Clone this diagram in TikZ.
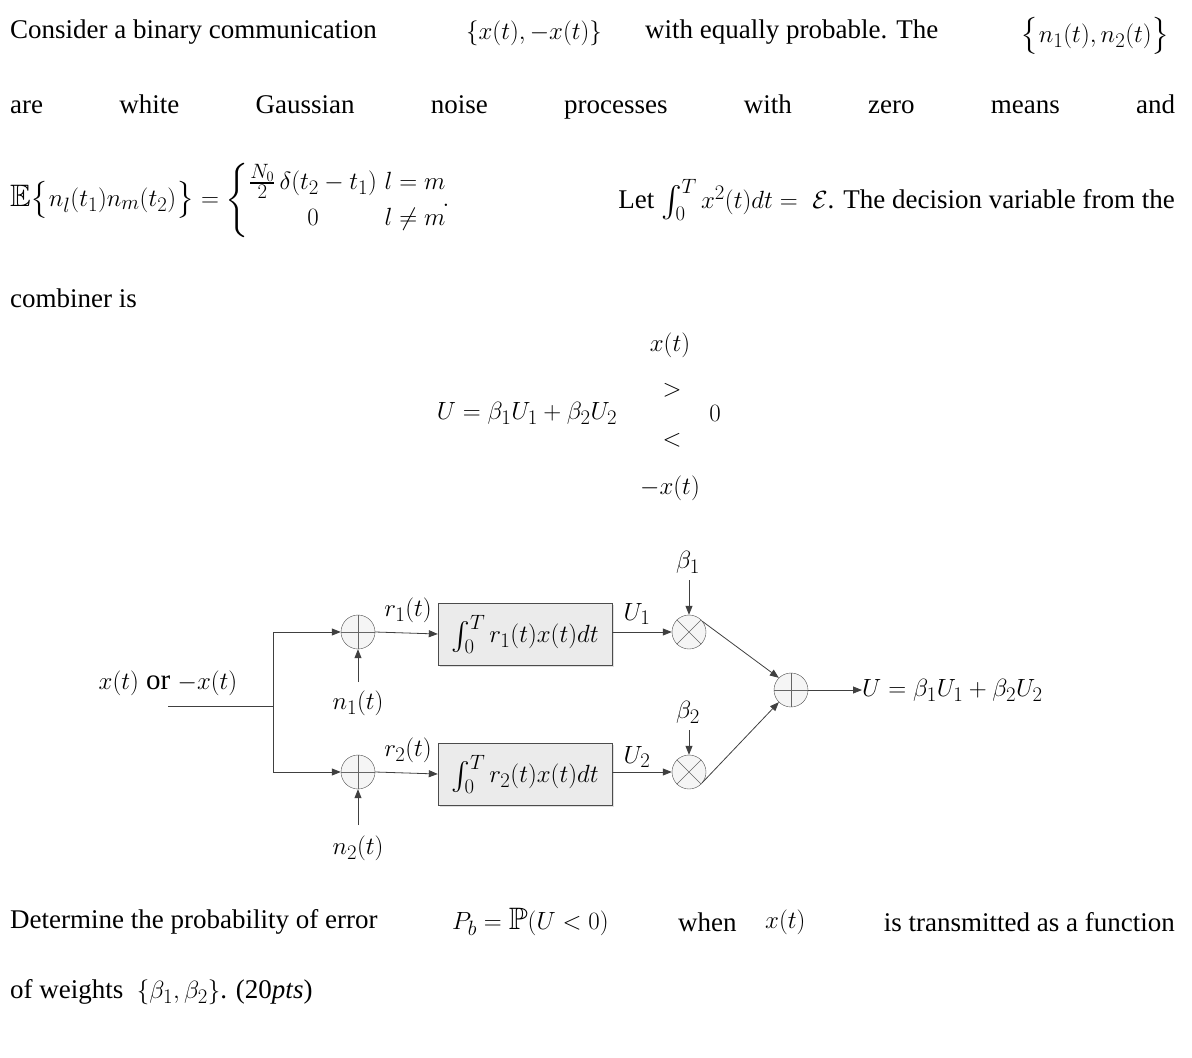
\documentclass[tikz,border=0pt]{standalone}
\usepackage{amsmath,amssymb}
\usepackage{fontspec}
\setmainfont{Liberation Serif}
\usetikzlibrary{arrows.meta,shadows}
\begin{document}
\begin{tikzpicture}[x=1pt,y=-1pt,
  txt/.style={inner sep=0pt,font=\fontsize{27}{32}\selectfont},
  mth/.style={inner sep=0pt,font=\fontsize{31}{36}\selectfont},
  dg/.style={inner sep=0pt,font=\fontsize{29}{32}\selectfont},
  blk/.style={draw=black!70,fill=black!8,minimum width=174pt,minimum height=62pt,font=\fontsize{28}{30}\selectfont,drop shadow={shadow xshift=2pt,shadow yshift=-2pt,fill=black!25}},
  circ/.style={draw=black!70,fill=black!4,circle,minimum size=34pt,inner sep=0pt},
  ar/.style={-{Triangle[length=9pt,width=7pt]},draw=black!75,line width=0.8pt},
  ln/.style={draw=black!75,line width=0.8pt}]
\useasboundingbox (0,0) rectangle (1192,1058);
% paragraph
\node[txt,anchor=west] (l1a) at (10,32) {Consider a binary communication};
\node[mth,anchor=west] (l1b) at (466,33) {$\{x(t),-x(t)\}$};
\node[txt,anchor=west] (l1c) at (645,32) {with equally probable. The};
\node[mth,anchor=east] (l1d) at (1170,36) {$\bigl\{n_1(t),n_2(t)\bigr\}$};
\node[txt,anchor=west] (l2) at (10,107) {\hbox to 1165pt{are\hfill white\hfill Gaussian\hfill noise\hfill processes\hfill with\hfill zero\hfill means\hfill and}};
\node[mth,anchor=west] (l3a) at (10,200) {$\mathbb{E}\bigl\{n_l(t_1)n_m(t_2)\bigr\}=\left\{\begin{array}{@{}c@{\ }l@{}}\frac{N_0}{2}\,\delta(t_2-t_1) & l=m\\ 0 & l\neq m\end{array}\right.\!\!.$};
\node[txt,anchor=east] (l3b) at (1175,200) {Let\ {\fontsize{31}{36}\selectfont$\int_0^T x^2(t)dt=\ \mathcal{E}$}. The decision variable from the};
\node[txt,anchor=west] (l4) at (10,298) {combiner is};
% decision rule
\node[mth] (dx) at (670,345) {$x(t)$};
\node[mth] (dgt) at (672,390) {$>$};
\node[mth] (dz) at (715,413) {$0$};
\node[mth] (dlt) at (672,440) {$<$};
\node[mth] (dmx) at (670,488) {$-x(t)$};
\node[mth] (dU) at (527,413) {$U=\beta_1U_1+\beta_2U_2$};
% diagram
\node[dg] (in) at (168,683) {$x(t)$ or $-x(t)$};
\coordinate (s0) at (168,706);
\coordinate (sp) at (273,706);
\node[circ] (a1) at (358,632) {};
\node[circ] (a2) at (358,772) {};
\foreach \a in {a1,a2}{\draw[black!60] (\a.north)--(\a.south) (\a.west)--(\a.east);}
\node[dg] (n1) at (358,703) {$n_1(t)$};
\node[dg] (n2) at (358,848) {$n_2(t)$};
\coordinate (n1t) at (358,682);
\coordinate (n2t) at (358,825);
\node[blk] (b1) at (525,634) {$\int_0^T r_1(t)x(t)dt$};
\node[blk] (b2) at (525,774) {$\int_0^T r_2(t)x(t)dt$};
\node[dg] (r1) at (408,610) {$r_1(t)$};
\node[dg] (r2) at (408,750) {$r_2(t)$};
\node[circ] (m1) at (689,632) {};
\node[circ] (m2) at (689,772) {};
\foreach \m in {m1,m2}{\draw[black!60] (\m.north west)--(\m.south east) (\m.north east)--(\m.south west);}
\node[dg] (u1) at (637,614) {$U_1$};
\node[dg] (u2) at (637,757) {$U_2$};
\node[dg] (be1) at (688,562) {$\beta_1$};
\node[dg] (be2) at (688,712) {$\beta_2$};
\coordinate (be1b) at (689,580);
\coordinate (be2b) at (689,730);
\node[circ] (s) at (791,690) {};
\draw[black!60] (s.north)--(s.south) (s.west)--(s.east);
\node[dg,anchor=west] (out) at (862,690) {$U=\beta_1U_1+\beta_2U_2$};
\draw[ln] (s0)--(sp);
\draw[ar] (sp) |- (a1.west);
\draw[ar] (sp) |- (a2.west);
\draw[ar] (n1t)--(a1.south);
\draw[ar] (n2t)--(a2.south);
\draw[ar] (a1.east)--(b1.west);
\draw[ar] (a2.east)--(b2.west);
\draw[ar] (b1.east |- m1)--(m1.west);
\draw[ar] (b2.east |- m2)--(m2.west);
\draw[ar] (be1b)--(m1.north);
\draw[ar] (be2b)--(m2.north);
\draw[ar] (m1)++(-40:17)--(s.north west);
\draw[ar] (m2)++(40:17)--(s.south west);
\draw[ar] (s.east)--(out.west);
% bottom text
\node[txt,anchor=west] (l5a) at (10,922) {Determine the probability of error};
\node[mth,anchor=west] (l5b) at (452,922) {$P_b=\mathbb{P}(U<0)$};
\node[txt,anchor=west] (l5c) at (678,922) {when};
\node[mth,anchor=west] (l5d) at (765,922) {$x(t)$};
\node[txt,anchor=east] (l5e) at (1175,922) {is transmitted as a function};
\node[txt,anchor=west] (l6) at (10,992) {of weights\ \ {\fontsize{31}{36}\selectfont$\{\beta_1,\beta_2\}$}. (20\textit{pts})};
\end{tikzpicture}
\end{document}
